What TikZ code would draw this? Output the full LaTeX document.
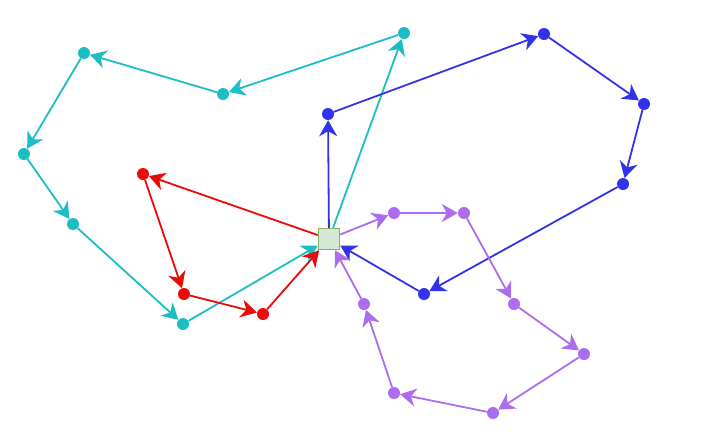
\documentclass[tikz,border=0pt]{standalone}
\usetikzlibrary{arrows.meta}
\definecolor{routecyan}{RGB}{28,190,196}
\definecolor{routered}{RGB}{235,10,10}
\definecolor{routeblue}{RGB}{50,50,232}
\definecolor{routepurple}{RGB}{172,108,238}
\definecolor{depotfill}{RGB}{213,232,212}
\definecolor{depotline}{RGB}{130,179,102}
\begin{document}
\begin{tikzpicture}[x=1pt,y=-1pt,
  stop/.style={circle,fill=#1,inner sep=0pt,minimum size=12pt},
  route/.style={draw=#1,line width=1.8pt,-{Stealth[length=16pt,width=18pt,inset=5pt]}}]
\useasboundingbox (0,0) rectangle (708,440);
\node [draw=depotline,fill=depotfill,line width=1.5pt,minimum size=21pt,inner sep=0pt] (depot) at (329,239) {};
% cyan tour
\node [stop=routecyan] (c1) at (404,33) {};
\node [stop=routecyan] (c2) at (223,94) {};
\node [stop=routecyan] (c3) at (84,53) {};
\node [stop=routecyan] (c4) at (24,154) {};
\node [stop=routecyan] (c5) at (73,224) {};
\node [stop=routecyan] (c6) at (183,324) {};
% red tour
\node [stop=routered] (r1) at (143,174) {};
\node [stop=routered] (r2) at (184,294) {};
\node [stop=routered] (r3) at (263,314) {};
% blue tour
\node [stop=routeblue] (b1) at (328,114) {};
\node [stop=routeblue] (b2) at (544,34) {};
\node [stop=routeblue] (b3) at (644,104) {};
\node [stop=routeblue] (b4) at (623,184) {};
\node [stop=routeblue] (b5) at (424,294) {};
% purple tour
\node [stop=routepurple] (p1) at (394,213) {};
\node [stop=routepurple] (p2) at (464,213) {};
\node [stop=routepurple] (p3) at (514,304) {};
\node [stop=routepurple] (p4) at (584,354) {};
\node [stop=routepurple] (p5) at (493,413) {};
\node [stop=routepurple] (p6) at (394,393) {};
\node [stop=routepurple] (p7) at (364,304) {};
\foreach \a/\b in {depot/c1,c1/c2,c2/c3,c3/c4,c4/c5,c5/c6,c6/depot}
  \path [route=routecyan] (\a) -- (\b);
\foreach \a/\b in {depot/r1,r1/r2,r2/r3,r3/depot}
  \path [route=routered] (\a) -- (\b);
\foreach \a/\b in {depot/b1,b1/b2,b2/b3,b3/b4,b4/b5,b5/depot}
  \path [route=routeblue] (\a) -- (\b);
\foreach \a/\b in {depot/p1,p1/p2,p2/p3,p3/p4,p4/p5,p5/p6,p6/p7,p7/depot}
  \path [route=routepurple] (\a) -- (\b);
\end{tikzpicture}
\end{document}
